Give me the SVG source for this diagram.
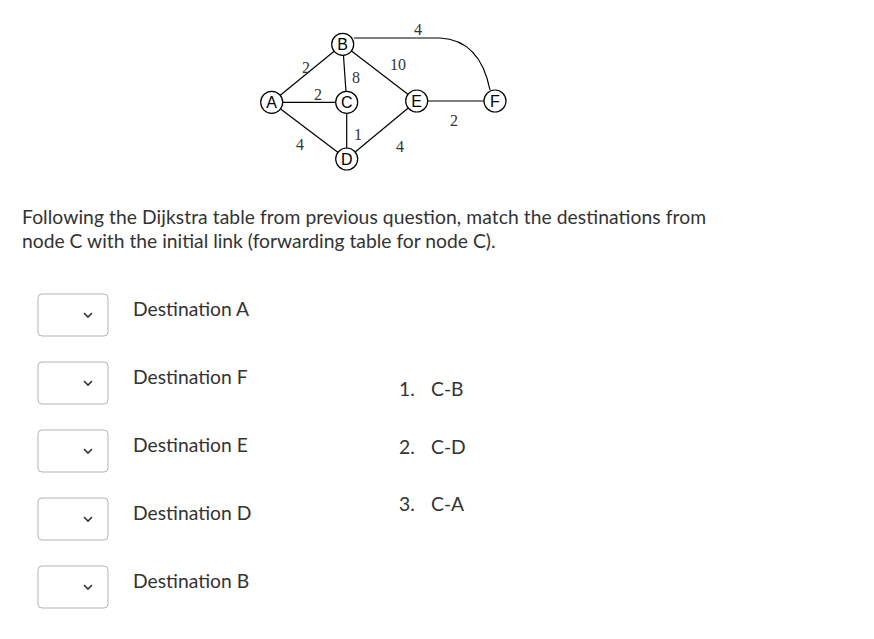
<svg xmlns="http://www.w3.org/2000/svg" width="874" height="639" viewBox="0 0 874 639">
<style>
.n circle{fill:#fff;stroke:#000;stroke-width:1.2}
.n text{font-family:"Liberation Sans",Arial,sans-serif;font-size:16px;text-anchor:middle}
.w{font-family:"Liberation Serif",serif;font-size:16px;text-anchor:middle;fill:#333}
.e{stroke:#000;stroke-width:1.2;fill:none}
.t{font-family:Lato,"Liberation Sans",sans-serif;font-size:19.3px;fill:#333}
.dd rect{fill:#fff;stroke:#b5b5b5;stroke-width:1}
.dd path{fill:none;stroke:#333;stroke-width:1.6}
</style>
<rect width="874" height="639" fill="#fff"/>
<g id="connectors">
<line class="e" x1="271.7" y1="102.3" x2="342.7" y2="44.3"/>
<line class="e" x1="271.7" y1="102.3" x2="346.7" y2="102.3"/>
<line class="e" x1="271.7" y1="102.3" x2="346.7" y2="159"/>
<line class="e" x1="342.7" y1="44.3" x2="346.7" y2="102.3"/>
<line class="e" x1="342.7" y1="44.3" x2="416.7" y2="101"/>
<line class="e" x1="346.7" y1="102.3" x2="346.7" y2="159"/>
<line class="e" x1="346.7" y1="159" x2="416.7" y2="101"/>
<line class="e" x1="416.7" y1="101" x2="495" y2="101"/>
<path class="e" d="M354 38 L440 38 Q480 40 490 90"/>
<text class="w" x="418" y="35">4</text>
<text class="w" x="398" y="70">10</text>
<text class="w" x="306" y="73">2</text>
<text class="w" x="356" y="83">8</text>
<text class="w" x="318" y="100">2</text>
<text class="w" x="454" y="126">2</text>
<text class="w" x="358" y="140">1</text>
<text class="w" x="300" y="150">4</text>
<text class="w" x="400" y="152">4</text>
</g>
<g id="A" class="n"><circle cx="271.7" cy="102.3" r="11"/><text x="271.7" y="108">A</text></g>
<g id="B" class="n"><circle cx="342.7" cy="44.3" r="11"/><text x="342.7" y="50">B</text></g>
<g id="C" class="n"><circle cx="346.7" cy="102.3" r="11"/><text x="346.7" y="108">C</text></g>
<g id="D" class="n"><circle cx="346.7" cy="159" r="11"/><text x="346.7" y="164.7">D</text></g>
<g id="E" class="n"><circle cx="416.7" cy="101" r="11"/><text x="416.7" y="106.7">E</text></g>
<g id="F" class="n"><circle cx="495" cy="101" r="11"/><text x="495" y="106.7">F</text></g>
<text class="t" x="22" y="224" textLength="684">Following the Dijkstra table from previous question, match the destinations from</text>
<text class="t" x="22" y="248">node C with the initial link (forwarding table for node C).</text>
<g class="dd">
<rect x="38" y="294" width="70" height="42" rx="4"/><path d="M84 313 l4 4 l4 -4"/>
<rect x="38" y="362" width="70" height="42" rx="4"/><path d="M84 381 l4 4 l4 -4"/>
<rect x="38" y="430" width="70" height="42" rx="4"/><path d="M84 449 l4 4 l4 -4"/>
<rect x="38" y="498" width="70" height="42" rx="4"/><path d="M84 517 l4 4 l4 -4"/>
<rect x="38" y="566" width="70" height="42" rx="4"/><path d="M84 585 l4 4 l4 -4"/>
</g>
<text class="t" x="133" y="316">Destination A</text>
<text class="t" x="133" y="384">Destination F</text>
<text class="t" x="133" y="452">Destination E</text>
<text class="t" x="133" y="520">Destination D</text>
<text class="t" x="133" y="588">Destination B</text>
<text class="t" x="399" y="396">1.</text><text class="t" x="431" y="396">C-B</text>
<text class="t" x="399" y="454">2.</text><text class="t" x="431" y="454">C-D</text>
<text class="t" x="399" y="511">3.</text><text class="t" x="431" y="511">C-A</text>
</svg>
